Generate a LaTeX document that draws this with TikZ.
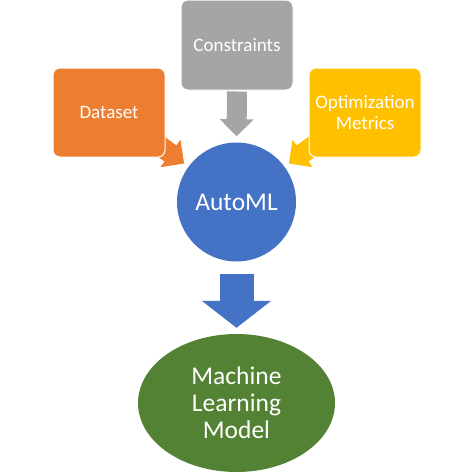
\documentclass[tikz,border=0pt]{standalone}
\usepackage{fontspec}
\setmainfont{Carlito}
\usetikzlibrary{arrows.meta}
\usetikzlibrary{shapes.geometric}
\usetikzlibrary{positioning}

\definecolor{cgray}{HTML}{A5A5A5}
\definecolor{corange}{HTML}{ED7D31}
\definecolor{cyellow}{HTML}{FFC000}
\definecolor{cblue}{HTML}{4472C4}
\definecolor{cgreen}{HTML}{548235}

\tikzset{
  inbox/.style={rectangle, rounded corners=7pt, draw=white, line width=1pt,
    minimum width=112pt, minimum height=89pt, text=white, align=center,
    font=\fontsize{19}{21}\selectfont},
  smallarrow/.style={line width=20pt, -{Triangle[length=17pt,width=33pt]}},
  bigarrow/.style={line width=34pt, -{Triangle[length=27pt,width=68pt]}}
}

\begin{document}
\begin{tikzpicture}[x=1pt, y=-1pt]
  \useasboundingbox (0,0) rectangle (474,472);

  \node (iAuto) [circle, fill=cblue, minimum size=119pt, text=white,
    font=\fontsize{25.5}{30}\selectfont] at (236.5,202) {AutoML};

  % arrows lie under the boxes
  \coordinate (dTail) at (148,137);
  \coordinate (mTail) at (325,137);
  \draw [smallarrow, corange, shorten >=65pt] (dTail) -- (iAuto.center);
  \draw [smallarrow, cyellow, shorten >=65pt] (mTail) -- (iAuto.center);

  \node (iCons) [inbox, fill=cgray, minimum height=90pt] at (237,45) {Constraints};
  \node (iData) [inbox, fill=corange] at (109,112.5) {Dataset};
  \node (iMetr) [inbox, fill=cyellow] at (365,112.5) {Optimization\\Metrics};

  \node (iModel) [ellipse, fill=cgreen, minimum width=197pt, minimum height=138pt,
    text=white, align=center, font=\fontsize{25.5}{27}\selectfont]
    at (236.5,403) {Machine\\Learning\\Model};

  \draw [smallarrow, cgray, shorten <=1pt, shorten >=6pt] (iCons.south) -- (iAuto.north);
  \draw [bigarrow, cblue, shorten <=12pt, shorten >=6pt] (iAuto.south) -- (iModel.north);
\end{tikzpicture}
\end{document}
